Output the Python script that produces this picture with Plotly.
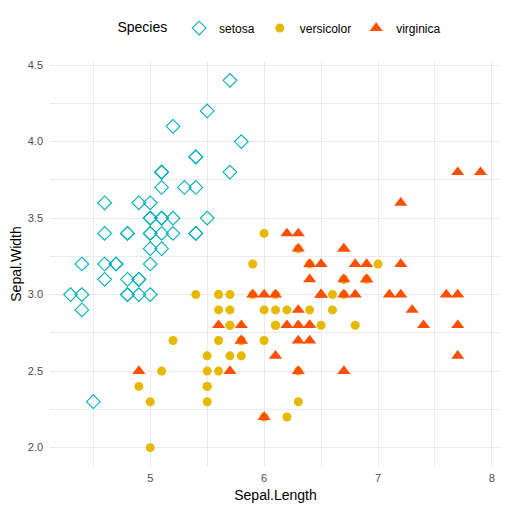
import plotly.graph_objs as go

# iris sepal measurements by species
setosa_len = [5.1, 4.9, 4.7, 4.6, 5.0, 5.4, 4.6, 5.0, 4.4, 4.9, 5.4, 4.8, 4.8, 4.3, 5.8, 5.7, 5.4, 5.1, 5.7, 5.1,
              5.4, 5.1, 4.6, 5.1, 4.8, 5.0, 5.0, 5.2, 5.2, 4.7, 4.8, 5.4, 5.2, 5.5, 4.9, 5.0, 5.5, 4.9, 4.4, 5.1,
              5.0, 4.5, 4.4, 5.0, 5.1, 4.8, 5.1, 4.6, 5.3, 5.0]
setosa_wid = [3.5, 3.0, 3.2, 3.1, 3.6, 3.9, 3.4, 3.4, 2.9, 3.1, 3.7, 3.4, 3.0, 3.0, 4.0, 4.4, 3.9, 3.5, 3.8, 3.8,
              3.4, 3.7, 3.6, 3.3, 3.4, 3.0, 3.4, 3.5, 3.4, 3.2, 3.1, 3.4, 4.1, 4.2, 3.1, 3.2, 3.5, 3.6, 3.0, 3.4,
              3.5, 2.3, 3.2, 3.5, 3.8, 3.0, 3.8, 3.2, 3.7, 3.3]
versicolor_len = [7.0, 6.4, 6.9, 5.5, 6.5, 5.7, 6.3, 4.9, 6.6, 5.2, 5.0, 5.9, 6.0, 6.1, 5.6, 6.7, 5.6, 5.8, 6.2, 5.6,
                  5.9, 6.1, 6.3, 6.1, 6.4, 6.6, 6.8, 6.7, 6.0, 5.7, 5.5, 5.5, 5.8, 6.0, 5.4, 6.0, 6.7, 6.3, 5.6, 5.5,
                  5.5, 6.1, 5.8, 5.0, 5.6, 5.7, 5.7, 6.2, 5.1, 5.7]
versicolor_wid = [3.2, 3.2, 3.1, 2.3, 2.8, 2.8, 3.3, 2.4, 2.9, 2.7, 2.0, 3.0, 2.2, 2.9, 2.9, 3.1, 3.0, 2.7, 2.2, 2.5,
                  3.2, 2.8, 2.5, 2.8, 2.9, 3.0, 2.8, 3.0, 2.9, 2.6, 2.4, 2.4, 2.7, 2.7, 3.0, 3.4, 3.1, 2.3, 3.0, 2.5,
                  2.6, 3.0, 2.6, 2.3, 2.7, 3.0, 2.9, 2.9, 2.5, 2.8]
virginica_len = [6.3, 5.8, 7.1, 6.3, 6.5, 7.6, 4.9, 7.3, 6.7, 7.2, 6.5, 6.4, 6.8, 5.7, 5.8, 6.4, 6.5, 7.7, 7.7, 6.0,
                 6.9, 5.6, 7.7, 6.3, 6.7, 7.2, 6.2, 6.1, 6.4, 7.2, 7.4, 7.9, 6.4, 6.3, 6.1, 7.7, 6.3, 6.4, 6.0, 6.9,
                 6.7, 6.9, 5.8, 6.8, 6.7, 6.7, 6.3, 6.5, 6.2, 5.9]
virginica_wid = [3.3, 2.7, 3.0, 2.9, 3.0, 3.0, 2.5, 2.9, 2.5, 3.6, 3.2, 2.7, 3.0, 2.5, 2.8, 3.2, 3.0, 3.8, 2.6, 2.2,
                 3.2, 2.8, 2.8, 2.7, 3.3, 3.2, 2.8, 3.0, 2.8, 3.0, 2.8, 3.8, 2.8, 2.8, 2.6, 3.0, 3.4, 3.1, 3.0, 3.1,
                 3.1, 3.1, 2.7, 3.2, 3.3, 3.0, 2.5, 3.0, 3.4, 3.0]

x_ticks = [5, 6, 7, 8]
y_ticks = [2.0, 2.5, 3.0, 3.5, 4.0, 4.5]

fig = go.Figure()
fig.add_trace(go.Scatter(x=setosa_len, y=setosa_wid, mode='markers', name='setosa',
                         marker=dict(symbol='diamond-open', size=10.5, color='#00AFBB', line=dict(width=1.1))))
fig.add_trace(go.Scatter(x=versicolor_len, y=versicolor_wid, mode='markers', name='versicolor',
                         marker=dict(symbol='circle', size=9, color='#E7B800')))
fig.add_trace(go.Scatter(x=virginica_len, y=virginica_wid, mode='markers', name='virginica',
                         marker=dict(symbol='triangle-up', size=11.5, color='#FC4E07')))

grid = '#EBEBEB'
fig.update_layout(
    width=512, height=511,
    margin=dict(l=42, r=19, t=54, b=53, autoexpand=False),
    plot_bgcolor='white', paper_bgcolor='white',
    font=dict(family='Liberation Sans, Arial', size=13, color='black'),
    legend=dict(orientation='h', x=0.512, xanchor='center', y=1.084, yanchor='middle',
                title=dict(text='Species ', font=dict(size=14)), font=dict(size=12)),
    xaxis=dict(title=dict(text='Sepal.Length', font=dict(size=14), standoff=7),
               range=[4.12, 8.08], tickvals=x_ticks, ticktext=[str(v) for v in x_ticks],
               showgrid=True, gridcolor=grid, gridwidth=1.1, zeroline=False, showline=False,
               tickfont=dict(size=11, color='#4D4D4D'), ticklabelstandoff=4,
               minor=dict(dtick=0.5, tick0=0, showgrid=True, gridcolor=grid, gridwidth=0.5)),
    yaxis=dict(title=dict(text='Sepal.Width', font=dict(size=14), standoff=21),
               range=[1.88, 4.52], tickvals=y_ticks, ticktext=['%.1f' % v for v in y_ticks],
               showgrid=True, gridcolor=grid, gridwidth=1.1, zeroline=False, showline=False,
               tickfont=dict(size=11, color='#4D4D4D'), ticklabelstandoff=6,
               minor=dict(dtick=0.25, tick0=0, showgrid=True, gridcolor=grid, gridwidth=0.5)),
)

fig.write_html("out.html")
